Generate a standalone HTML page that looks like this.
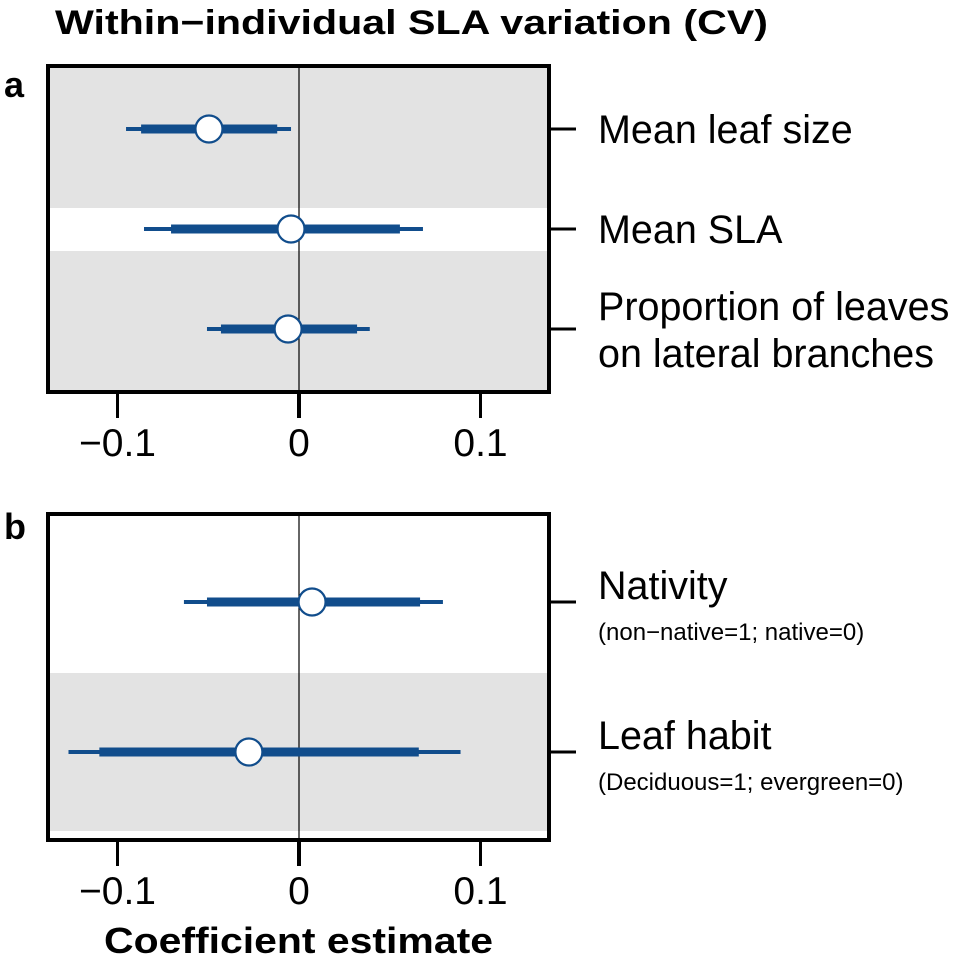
<!DOCTYPE html>
<html><head><meta charset="utf-8"><style>
html,body{margin:0;padding:0;background:#fff;}
svg{display:block;font-family:"Liberation Sans",Arial,sans-serif;}
</style></head><body>
<svg id="chart" width="968" height="962" viewBox="0 0 968 962">
<text x="55" y="34" font-size="34" font-weight="bold" textLength="713" lengthAdjust="spacingAndGlyphs">Within−individual SLA variation (CV)</text>
<text x="4" y="97" font-size="36" font-weight="bold">a</text>
<text x="4" y="539" font-size="36" font-weight="bold">b</text>
<text x="104" y="953" font-size="36" font-weight="bold" textLength="389" lengthAdjust="spacingAndGlyphs">Coefficient estimate</text>
<g id="layer"></g>
</svg>
<script>
const aLabels = ["Mean leaf size","Mean SLA","Proportion of leaves|on lateral branches"];
const aEst = [-0.0496,-0.0044,-0.006];
const aLo95 = [-0.0953,-0.0854,-0.0507];
const aHi95 = [-0.0044,0.0683,0.039];
const aLo50 = [-0.087,-0.0705,-0.043];
const aHi50 = [-0.012,0.0556,0.032];
const bLabels = ["Nativity","Leaf habit"];
const bSub = ["(non−native=1; native=0)","(Deciduous=1; evergreen=0)"];
const bEst = [0.0072,-0.0276];
const bLo95 = [-0.0634,-0.127];
const bHi95 = [0.0793,0.089];
const bLo50 = [-0.0507,-0.110];
const bHi50 = [0.0667,0.066];
const ticks = [-0.1,0,0.1];
const tickLabels = ["−0.1","0","0.1"];

const NS="http://www.w3.org/2000/svg";
const layer=document.getElementById('layer');
const X0=299, PX=1815;
function x(v){return X0+v*PX;}
function mk(tag,attrs,parent){const e=document.createElementNS(NS,tag);for(const k in attrs)e.setAttribute(k,attrs[k]);(parent||layer).appendChild(e);return e;}

function panel(name,top,bottom,rowsY,bands,labels,subs,est,lo95,hi95,lo50,hi50){
  const g=mk('g',{});
  
  
  bands.forEach((b,i)=>{
    const r=mk('rect',{x:48,y:b[0],width:501,height:b[1]-b[0],fill:'#e3e3e3'},g);
    
    
  });
  const zl=mk('line',{x1:x(0),x2:x(0),y1:top,y2:bottom,stroke:'#000','stroke-width':1.2},g);
  
  
  est.forEach((v,i)=>{
    const y=rowsY[i];
    const t=mk('line',{x1:x(lo95[i]),x2:x(hi95[i]),y1:y,y2:y,stroke:'#114d8c','stroke-width':4},g);
    
    
    const k=mk('line',{x1:x(lo50[i]),x2:x(hi50[i]),y1:y,y2:y,stroke:'#114d8c','stroke-width':9},g);
    
    
    const c=mk('circle',{cx:x(v),cy:y,r:13.5,fill:'#fff',stroke:'#114d8c','stroke-width':2.2},g);
    
    
    const tk=mk('line',{x1:549,x2:576,y1:y,y2:y,stroke:'#000','stroke-width':3},g);
    
    
    const parts=labels[i].split('|');
    const baseY = subs ? y-3 : (parts.length>1 ? y-9 : y+14);
    parts.forEach((p,j)=>{
      const tx=mk('text',{x:598,y:baseY+j*47,'font-size':39.5},g);
      tx.textContent=p;
      
      
    });
    if(subs){
      const s=mk('text',{x:598,y:y+38,'font-size':24},g);
      s.textContent=subs[i];
      
      
    }
  });
  const box=mk('rect',{x:48,y:top,width:501,height:bottom-top,fill:'none',stroke:'#000','stroke-width':4},g);
  
  
  ticks.forEach((v,i)=>{
    const l=mk('line',{x1:x(v),x2:x(v),y1:bottom,y2:bottom+26,stroke:'#000','stroke-width':v===0?4:3},g);
    
    
    const t=mk('text',{x:x(v),y:bottom+64,'font-size':39,'text-anchor':'middle'},g);
    t.textContent=tickLabels[i];
    
    
  });
}
panel('panel-a',66,392,[129,229,329],[[68,208],[251,390]],aLabels,null,aEst,aLo95,aHi95,aLo50,aHi50);
panel('panel-b',514,840,[602,752],[[673,831]],bLabels,bSub,bEst,bLo95,bHi95,bLo50,bHi50);
</script>
</body></html>
